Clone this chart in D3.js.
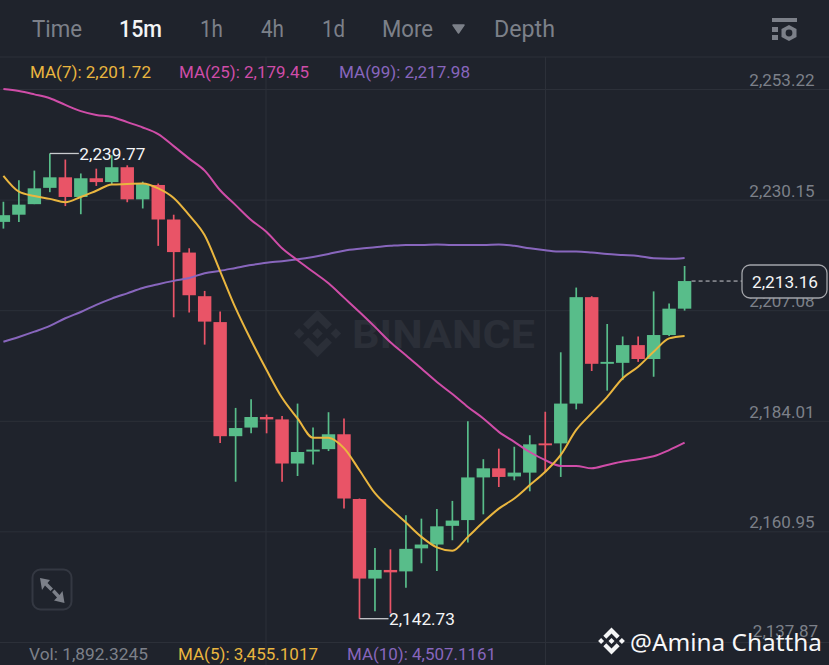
<!DOCTYPE html>
<html>
<head>
<meta charset="utf-8">
<script src="https://cdn.jsdelivr.net/npm/d3@7/dist/d3.min.js"></script>
<style>
    html, body { margin: 0; padding: 0; background: #1f232c; }
    svg { display: block; }
    text { font-family: Roboto, sans-serif; }
</style>
</head>
<body>
<div id="chart"></div>
<script>
// candles, left to right
var opens = [2225.5, 2227.0, 2229.2, 2232.6, 2234.8, 2230.7, 2234.6, 2233.8, 2236.9, 2230.2, 2233.2, 2226.0, 2219.1, 2210.0, 2204.6,
    2180.8, 2182.6, 2184.8, 2184.3, 2175.1, 2177.6, 2178.1, 2181.2, 2167.7, 2151.1, 2152.9, 2152.6, 2157.4, 2158.2, 2162.1,
    2163.3, 2172.2, 2174.1, 2172.4, 2173.2, 2179.3, 2179.3, 2187.6, 2209.8, 2195.9, 2196.1, 2199.8, 2196.9, 2201.9, 2207.4];
var closes = [2226.9, 2229.1, 2232.5, 2234.8, 2230.7, 2234.6, 2233.8, 2236.9, 2230.2, 2233.4, 2226.0, 2219.2, 2210.2, 2204.7, 2180.8,
    2182.5, 2184.8, 2184.3, 2175.1, 2177.5, 2178.0, 2181.2, 2167.8, 2151.1, 2152.9, 2152.4, 2157.3, 2158.2, 2162.0, 2163.2,
    2172.2, 2174.1, 2172.3, 2173.2, 2179.1, 2178.9, 2187.6, 2209.8, 2195.9, 2196.3, 2199.8, 2196.9, 2201.9, 2207.4, 2213.16];
var highs = [2229.7, 2234.2, 2236.2, 2239.77, 2238.5, 2235.6, 2236.6, 2239.4, 2237.3, 2233.9, 2233.5, 2227.0, 2220.0, 2211.1, 2206.8,
    2186.7, 2188.5, 2185.3, 2185.0, 2187.6, 2182.6, 2185.8, 2184.5, 2167.8, 2157.5, 2157.2, 2164.3, 2163.6, 2165.6, 2167.3,
    2183.9, 2176.0, 2178.2, 2178.6, 2181.0, 2185.9, 2198.3, 2211.8, 2210.0, 2204.2, 2201.6, 2201.6, 2211.0, 2208.5, 2216.3];
var lows = [2224.1, 2225.5, 2229.2, 2231.7, 2228.8, 2227.1, 2233.0, 2233.4, 2229.6, 2228.3, 2220.5, 2205.6, 2206.6, 2199.9, 2179.4,
    2171.3, 2181.4, 2181.4, 2171.3, 2172.5, 2174.9, 2177.7, 2165.7, 2142.73, 2144.3, 2143.8, 2149.2, 2154.3, 2152.7, 2159.1,
    2158.6, 2164.5, 2170.2, 2171.6, 2169.3, 2173.4, 2172.3, 2186.4, 2194.4, 2190.3, 2192.5, 2196.3, 2193.2, 2201.7, 2207.0];

var ma7 = [2235.1, 2231.8, 2230.9, 2230.3, 2229.6, 2230.7, 2232.0, 2233.3, 2233.4, 2233.5, 2232.5, 2230.5, 2226.9, 2222.7, 2215.2,
    2207.5, 2200.8, 2194.6, 2188.8, 2184.5, 2180.5, 2180.5, 2178.3, 2173.7, 2168.9, 2165.7, 2162.8, 2159.8, 2157.6, 2156.9,
    2159.8, 2162.9, 2165.7, 2167.8, 2170.6, 2173.4, 2176.9, 2182.1, 2185.6, 2189.0, 2192.9, 2195.3, 2198.4, 2201.2, 2201.72];
var ma25 = [2253.2, 2252.8, 2252.1, 2251.3, 2249.9, 2248.6, 2247.8, 2247.4, 2246.3, 2245.2, 2243.8, 2241.3, 2238.7, 2236.2, 2232.1,
    2229.0, 2225.9, 2223.4, 2220.0, 2217.5, 2215.1, 2212.7, 2209.7, 2206.7, 2203.6, 2200.4, 2197.7, 2194.9, 2192.1, 2189.6,
    2186.9, 2184.5, 2181.7, 2179.6, 2177.5, 2175.8, 2174.6, 2174.6, 2174.1, 2174.8, 2175.5, 2176.0, 2176.6, 2177.9, 2179.45];
var ma99 = [2200.5, 2201.5, 2202.6, 2203.8, 2205.4, 2206.7, 2208.2, 2209.5, 2210.6, 2211.7, 2212.5, 2213.2, 2213.8, 2214.8, 2215.3,
    2215.9, 2216.5, 2217.0, 2217.3, 2217.7, 2218.2, 2218.8, 2219.5, 2219.9, 2220.2, 2220.5, 2220.7, 2220.7, 2220.8, 2220.7,
    2220.7, 2220.7, 2220.8, 2220.5, 2220.0, 2219.6, 2219.3, 2219.3, 2219.1, 2218.8, 2218.6, 2218.4, 2217.9, 2217.8, 2217.98];

var priceTicks = [2253.22, 2230.15, 2207.08, 2184.01, 2160.95, 2137.87];
var lastPrice = 2213.16;
var highIndex = 3, lowIndex = 23;

var tabs = ['Time', '15m', '1h', '4h', '1d', 'More', 'Depth'];
var tabLeft = [32, 119, 200, 261, 322, 382, 494];
var tabWidth = [50, 43, 23, 23, 23, 51, 61];

var width = 829, height = 665;
var GREEN = '#58bd8a', RED = '#e95467', GRID = '#2c3039', GREY = '#7c8089';
var YELLOW = '#eab63f', PINK = '#cf4da8', PURPLE = '#8866bd';

var svg = d3.select('#chart').append('svg')
    .attr('width', width)
    .attr('height', height);

var x = d3.scaleLinear().domain([0, closes.length - 1]).range([3.4, 684.6]);
var y = d3.scaleLinear().domain([2137.87, 2253.22]).range([642, 89]);

function label(text, left, top, w, size, fill, weight) {
    return svg.append('text')
        .attr('x', left)
        .attr('y', top)
        .attr('textLength', w)
        .attr('lengthAdjust', 'spacingAndGlyphs')
        .attr('font-size', size)
        .attr('font-weight', weight || 400)
        .attr('fill', fill)
        .text(text);
}

// binance mark, r is the half height
function logo(cx, cy, r, fill) {
    var g = svg.append('g')
        .attr('transform', 'translate(' + cx + ',' + cy + ') scale(' + r + ')')
        .attr('fill', fill);
    var shapes = [
        [[-0.4, -0.17], [0, -0.57], [0.4, -0.17], [0.63, -0.4], [0, -1.03], [-0.63, -0.4]],
        [[-0.4, 0.17], [0, 0.57], [0.4, 0.17], [0.63, 0.4], [0, 1.03], [-0.63, 0.4]],
        [[-1.03, 0], [-0.8, -0.23], [-0.57, 0], [-0.8, 0.23]],
        [[1.03, 0], [0.8, -0.23], [0.57, 0], [0.8, 0.23]],
        [[-0.23, 0], [0, -0.23], [0.23, 0], [0, 0.23]]
    ];
    g.selectAll('polygon').data(shapes).enter().append('polygon')
        .attr('points', function (d) { return d.join(' '); });
}

// header
tabs.forEach(function (t, i) {
    var active = t === '15m';
    label(t, tabLeft[i], 37, tabWidth[i], 24, active ? '#f4f5f6' : GREY, active ? 500 : 400);
});
svg.append('path')
    .attr('d', 'M453,25 L464,25 L458.5,33 Z')
    .attr('fill', GREY)
    .attr('stroke', GREY)
    .attr('stroke-linejoin', 'round')
    .attr('stroke-width', 1.5);

// settings icon
svg.append('rect').attr('x', 772).attr('y', 18).attr('width', 25).attr('height', 4).attr('fill', GREY);
svg.append('rect').attr('x', 772).attr('y', 27).attr('width', 6).attr('height', 5).attr('fill', GREY);
svg.append('rect').attr('x', 772).attr('y', 35).attr('width', 6).attr('height', 5).attr('fill', GREY);
svg.append('path')
    .attr('d', 'M789,25 L796.5,29 L796.5,37 L789,41 L781.5,37 L781.5,29 Z')
    .attr('fill', GREY);
svg.append('circle').attr('cx', 789).attr('cy', 33).attr('r', 3.4).attr('fill', '#1f232c');

// grid
svg.append('line').attr('x1', 0).attr('x2', width).attr('y1', 57).attr('y2', 57).attr('stroke', GRID);
[266, 545.5].forEach(function (gx) {
    svg.append('line').attr('x1', gx).attr('x2', gx).attr('y1', 57).attr('y2', height).attr('stroke', GRID);
});

var axis = d3.axisRight(y)
    .tickValues(priceTicks)
    .tickSize(width)
    .tickFormat(d3.format(',.2f'));
var axisG = svg.append('g').call(axis);
axisG.select('.domain').remove();
axisG.selectAll('.tick line').attr('stroke', GRID);
axisG.selectAll('.tick text')
    .attr('x', function (d) { return d === 2137.87 ? 818 : 814.5; })
    .attr('dy', function (d) { return d === 2137.87 ? '-6px' : '-3.5px'; })
    .attr('text-anchor', 'end')
    .attr('fill', GREY)
    .attr('font-size', 17)
    .attr('font-family', 'Roboto, sans-serif');

// background watermark
logo(317.5, 333.5, 23, '#2b2f38');
label('BINANCE', 352, 348, 183, 39, '#2b2f38', 700);

// candles
var idx = d3.range(closes.length);
var candle = svg.append('g').selectAll('g').data(idx).enter().append('g');
function candleColor(i) {
    return closes[i] >= opens[i] ? GREEN : RED;
}
candle.append('line')
    .attr('x1', function (i) { return x(i); })
    .attr('x2', function (i) { return x(i); })
    .attr('y1', function (i) { return y(highs[i]); })
    .attr('y2', function (i) { return y(lows[i]); })
    .attr('stroke', candleColor)
    .attr('stroke-width', 1.7);
candle.append('rect')
    .attr('x', function (i) { return x(i) - 6.7; })
    .attr('width', 13.4)
    .attr('y', function (i) { return Math.min(y(opens[i]), y(closes[i])); })
    .attr('height', function (i) { return Math.max(1.6, Math.abs(y(opens[i]) - y(closes[i]))); })
    .attr('fill', candleColor);

// moving averages
var line = d3.line()
    .x(function (d, i) { return x(i); })
    .y(function (d) { return y(d); })
    .curve(d3.curveMonotoneX);
[[ma99, PURPLE], [ma25, PINK], [ma7, YELLOW]].forEach(function (s) {
    svg.append('path')
        .attr('d', line(s[0]))
        .attr('fill', 'none')
        .attr('stroke', s[1])
        .attr('stroke-width', 2)
        .attr('stroke-linejoin', 'round');
});

// high / low markers
[highIndex, lowIndex].forEach(function (i) {
    var price = i === highIndex ? highs[i] : lows[i];
    svg.append('line')
        .attr('x1', x(i))
        .attr('x2', x(i) + 29)
        .attr('y1', y(price))
        .attr('y2', y(price))
        .attr('stroke', '#c9cbcf')
        .attr('stroke-width', 1.3);
    label(d3.format(',.2f')(price), x(i) + 29.5, y(price) + 6.5, 66, 17, '#f4f5f6');
});

// MA legends
label('MA(7): 2,201.72', 30, 78, 121, 16, YELLOW);
label('MA(25): 2,179.45', 179, 78, 130, 16, PINK);
label('MA(99): 2,217.98', 339, 78, 131, 16, PURPLE);
label('Vol: 1,892.3245', 29, 660, 119, 16, GREY);
label('MA(5): 3,455.1017', 178, 660, 140, 16, YELLOW);
label('MA(10): 4,507.1161', 347, 660, 149, 16, PURPLE);

// last price
svg.append('line')
    .attr('x1', x(closes.length - 1) + 7)
    .attr('x2', 742)
    .attr('y1', y(lastPrice))
    .attr('y2', y(lastPrice))
    .attr('stroke', '#c9cbcf')
    .attr('stroke-dasharray', '4 3');
svg.append('rect')
    .attr('x', 742)
    .attr('y', 265)
    .attr('width', 85)
    .attr('height', 33)
    .attr('rx', 8)
    .attr('fill', '#1f232c')
    .attr('stroke', '#a3a5aa')
    .attr('stroke-width', 1.3);
label(d3.format(',.2f')(lastPrice), 752, 288, 66, 17, '#f4f5f6');

// expand button
svg.append('rect')
    .attr('x', 32.5)
    .attr('y', 569.5)
    .attr('width', 39)
    .attr('height', 40)
    .attr('rx', 8)
    .attr('fill', 'none')
    .attr('stroke', '#343842')
    .attr('stroke-width', 2);
svg.append('path')
    .attr('d', 'M40,578 L50,580 L47.5,583 L53,588.5 L50.5,591 L45,585.5 L42,590 Z')
    .attr('fill', GREY);
svg.append('path')
    .attr('d', 'M64.5,603 L54,600.5 L57,597.5 L52,592 L54.5,589.5 L59.5,595 L62.5,591 Z')
    .attr('fill', GREY);

// credit in front of everything
logo(611.5, 641, 13, '#f4f5f6');
svg.append('text')
    .attr('x', 630)
    .attr('y', 651)
    .attr('textLength', 192)
    .attr('lengthAdjust', 'spacingAndGlyphs')
    .attr('font-size', 24)
    .attr('fill', '#f7f7f8')
    .style('font-family', '"Noto Sans", sans-serif')
    .text('@Amina Chattha');
</script>
</body>
</html>
